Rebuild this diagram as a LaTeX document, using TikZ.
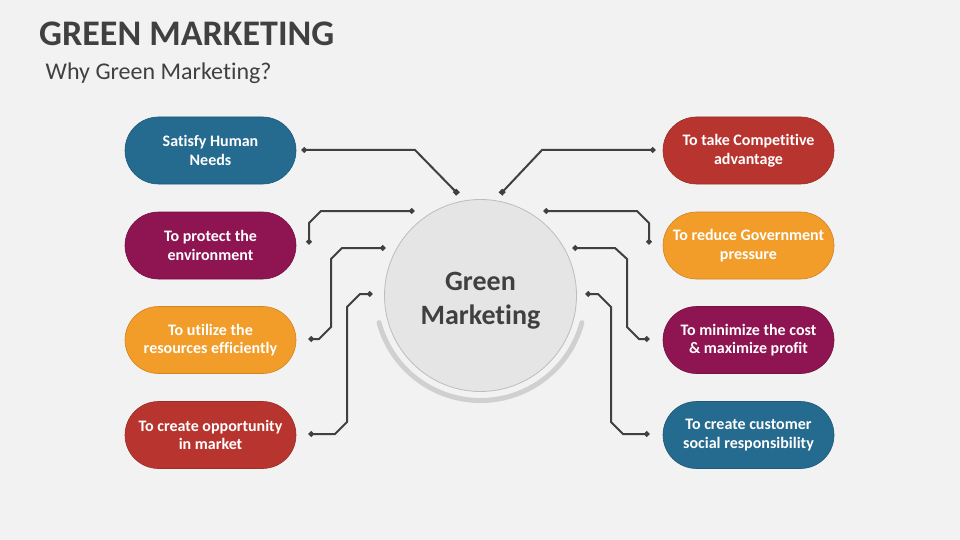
\documentclass[tikz,border=0pt]{standalone}
\usepackage{fontspec}
\setmainfont{Carlito}[RawFeature=-liga]
\usetikzlibrary{arrows.meta}
\definecolor{bg}{HTML}{F2F2F2}
\definecolor{txt}{HTML}{404040}
\definecolor{pblue}{HTML}{256A8F}
\definecolor{pmag}{HTML}{8E1452}
\definecolor{porange}{HTML}{F29D2A}
\definecolor{pred}{HTML}{B8352F}
\definecolor{cfill}{HTML}{E5E5E5}
\definecolor{cline}{HTML}{BDBDBD}
\definecolor{arcgray}{HTML}{D0D0D0}
\definecolor{conncol}{HTML}{404040}
\tikzset{
  pill/.style={draw=#1!85!black, line width=0.6pt, fill=#1, rounded corners=33.5pt,
    minimum width=171pt, minimum height=67pt, inner sep=0pt, align=center,
    text=white, font=\fontsize{16}{18.5}\selectfont\bfseries},
  conn/.style={draw=conncol, line width=2pt},
  dotdot/.style={conn, {Circle[length=5.5pt]}-{Circle[length=5.5pt]}},
  dotsq/.style={conn, {Circle[length=5.5pt]}-{Square[length=5pt]}}
}
\begin{document}
\begin{tikzpicture}[x=1pt,y=-1pt]
\fill[bg] (0,0) rectangle (960,540);
\useasboundingbox (0,0) rectangle (960,540);

\node[anchor=base west, text=txt, font=\fontsize{36}{40}\selectfont\bfseries, inner sep=0pt] (title) at (39,45.5) {GREEN MARKETING};
\node[anchor=base west, text=txt, font=\fontsize{24}{28}\selectfont, inner sep=0pt] (sub) at (45.5,80) {Why Green Marketing?};

% arc and circle
\draw[arcgray, line width=5pt, line cap=round] (480.5,295.5) ++(15:105) arc[start angle=15, end angle=165, radius=105];
\node[circle, draw=cline, line width=0.8pt, fill=cfill, minimum size=192pt, inner sep=0pt] (gm) at (480.5,295.5) {};
\node[text=txt, font=\fontsize{28}{34}\selectfont\bfseries, align=center, inner sep=0pt] (gmt) at (480.5,301) {Green\\Marketing};

% pills
\node[pill=pblue]   (l1) at (210.5,150.5) {Satisfy Human\\Needs};
\node[pill=pmag]    (l2) at (210.5,245.5) {To protect the\\environment};
\node[pill=porange] (l3) at (210.5,340) {To utilize the\\resources efficiently};
\node[pill=pred]    (l4) at (210.5,435) {To create opportunity\\in market};
\node[pill=pred]    (r1) at (748.5,150.5) {To take Competitive\\advantage};
\node[pill=porange] (r2) at (748.5,245.5) {To reduce Government\\pressure};
\node[pill=pmag]    (r3) at (748.5,340) {To minimize the cost\\\& maximize profit};
\node[pill=pblue]   (r4) at (748.5,435) {To create customer\\social responsibility};

% connector coordinates
\coordinate (l1a) at (301.5,150); \coordinate (l1b) at (415,150); \coordinate (l1c) at (458,194);
\coordinate (r1a) at (655.5,150); \coordinate (r1b) at (542,150); \coordinate (r1c) at (500.5,194);
\coordinate (l2a) at (414.5,211); \coordinate (l2b) at (321,211); \coordinate (l2c) at (309,223); \coordinate (l2d) at (309,244.5);
\coordinate (r2a) at (543.5,211); \coordinate (r2b) at (637,211); \coordinate (r2c) at (649,223); \coordinate (r2d) at (649,244.5);
\coordinate (l3a) at (385.5,248); \coordinate (l3b) at (342,248); \coordinate (l3c) at (331,259); \coordinate (l3d) at (331,327); \coordinate (l3e) at (319,339); \coordinate (l3f) at (308.5,339);
\coordinate (r3a) at (572.5,248); \coordinate (r3b) at (615,248); \coordinate (r3c) at (627,259); \coordinate (r3d) at (627,327); \coordinate (r3e) at (639,339); \coordinate (r3f) at (649.5,339);
\coordinate (l4a) at (372.5,294); \coordinate (l4b) at (360,294); \coordinate (l4c) at (347,307); \coordinate (l4d) at (347,422); \coordinate (l4e) at (335,434); \coordinate (l4f) at (308.5,434);
\coordinate (r4a) at (585.5,294); \coordinate (r4b) at (598,294); \coordinate (r4c) at (611,307); \coordinate (r4d) at (611,422); \coordinate (r4e) at (623,434); \coordinate (r4f) at (649.5,434);

\draw[dotsq] (l1a) -- (l1b) -- (l1c);
\draw[dotsq] (r1a) -- (r1b) -- (r1c);
\draw[dotdot] (l2a) -- (l2b) -- (l2c) -- (l2d);
\draw[dotdot] (r2a) -- (r2b) -- (r2c) -- (r2d);
\draw[dotdot] (l3a) -- (l3b) -- (l3c) -- (l3d) -- (l3e) -- (l3f);
\draw[dotdot] (r3a) -- (r3b) -- (r3c) -- (r3d) -- (r3e) -- (r3f);
\draw[dotdot] (l4a) -- (l4b) -- (l4c) -- (l4d) -- (l4e) -- (l4f);
\draw[dotdot] (r4a) -- (r4b) -- (r4c) -- (r4d) -- (r4e) -- (r4f);
\end{tikzpicture}
\end{document}
